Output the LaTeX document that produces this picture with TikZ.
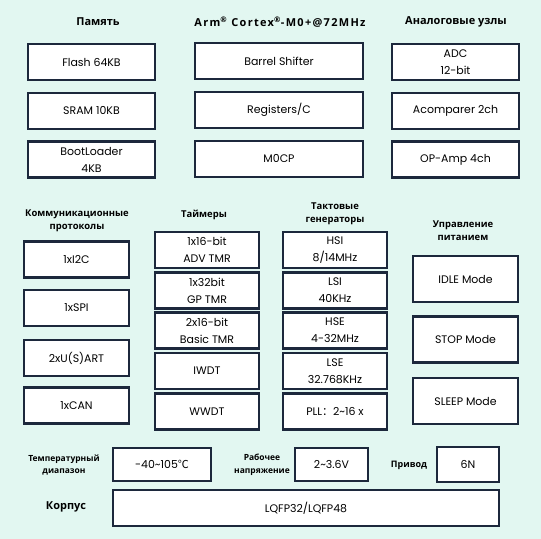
\documentclass[tikz,border=0pt]{standalone}
\usepackage{fontspec}
\setmainfont{Open Sans}
\newfontfamily\boxfont{Poppins}
\newfontfamily\cjk{Noto Sans CJK SC}
\definecolor{bgmint}{RGB}{226,247,241}
\definecolor{edge}{RGB}{28,40,60}
\tikzset{
  blk/.style={draw=edge, line width=2.2bp, fill=white, align=center, inner sep=0pt,
    font=\boxfont\fontsize{11}{17}\selectfont},
  memcol/.style={blk, minimum width=127bp, minimum height=36bp},
  armcol/.style={blk, minimum width=168bp, minimum height=36bp},
  comcol/.style={blk, minimum width=105bp, minimum height=36bp},
  tmrcol/.style={blk, minimum width=104bp, minimum height=36bp},
  pwrcol/.style={blk, minimum width=105bp, minimum height=46bp},
  hdr/.style={font=\bfseries\fontsize{11}{13}\selectfont, align=center},
  smallhdr/.style={font=\bfseries\fontsize{9.5}{13}\selectfont, align=center},
  tinyhdr/.style={font=\bfseries\fontsize{8.5}{13}\selectfont, align=center},
}
\begin{document}
\begin{tikzpicture}[x=1bp,y=-1bp]
    \fill[bgmint] (0,0) rectangle (541,539);
    \useasboundingbox (0,0) rectangle (541,539);
    % top row
    \node[hdr] (memhdr) at (98,22) {Память};
    \node[hdr] (armhdr) at (280,22) {\addfontfeatures{LetterSpace=12}Arm\textsuperscript{®} Cortex\textsuperscript{®}-M0+@72MHz};
    \node[hdr] (anahdr) at (456,22) {Аналоговые узлы};
    \node[memcol] (flash) at (91.5,62) {Flash 64KB};
    \node[memcol] (sram) at (91.5,111) {SRAM 10KB};
    \node[memcol] (boot) at (91.5,159.5) {BootLoader\\4KB};
    \node[armcol] (barrel) at (279,61) {Barrel Shifter};
    \node[armcol] (regs) at (279,110) {Registers/C};
    \node[armcol] (mocp) at (279,159) {M0CP};
    \node[memcol] (adc) at (455.5,62) {ADC\\12-bit};
    \node[memcol] (acmp) at (455.5,111) {Acomparer 2ch};
    \node[memcol] (opamp) at (455.5,159.5) {OP-Amp 4ch};
    % middle row
    \node[smallhdr] (comhdr) at (77,221) {Коммуникационные\\протоколы};
    \node[smallhdr] (tmrhdr) at (204,215) {Таймеры};
    \node[smallhdr] (clkhdr) at (335,214) {Тактовые\\генераторы};
    \node[smallhdr] (pwrhdr) at (463,231) {Управление\\питанием};
    \node[comcol] (iic) at (76.5,259.5) {1xI2C};
    \node[comcol] (spi) at (76.5,308) {1xSPI};
    \node[comcol] (usart) at (76.5,358) {2xU(S)ART};
    \node[comcol] (can) at (76.5,405.5) {1xCAN};
    \node[tmrcol] (advtmr) at (207,250) {1x16-bit\\ADV TMR};
    \node[tmrcol] (gptmr) at (207,290.5) {1x32bit\\GP TMR};
    \node[tmrcol] (bastmr) at (207,330.5) {2x16-bit\\Basic TMR};
    \node[tmrcol] (iwdt) at (207,371) {IWDT};
    \node[tmrcol] (wwdt) at (207,411.5) {WWDT};
    \node[tmrcol] (hsi) at (335,250) {HSI\\8/14MHz};
    \node[tmrcol] (lsi) at (335,290.5) {LSI\\40KHz};
    \node[tmrcol] (hse) at (335,330.5) {HSE\\4-32MHz};
    \node[tmrcol] (lse) at (335,371) {LSE\\32.768KHz};
    \node[tmrcol] (pll) at (335,411.5) {PLL{\cjk ：}2\textasciitilde16 x};
    \node[pwrcol] (idle) at (465.5,279) {IDLE Mode};
    \node[pwrcol] (stop) at (465.5,339.5) {STOP Mode};
    \node[pwrcol] (sleep) at (465.5,401) {SLEEP Mode};
    % bottom rows
    \node[tinyhdr] (temphdr) at (64,465) {Температурный\\диапазон};
    \node[blk, minimum width=98bp, minimum height=33bp] (temp) at (162,464.5) {-40\textasciitilde105{\cjk ℃}};
    \node[tinyhdr] (volthdr) at (262,465) {Рабочее\\напряжение};
    \node[blk, minimum width=73bp, minimum height=33bp] (volt) at (331.5,464.5) {2\textasciitilde3.6V};
    \node[font=\bfseries\fontsize{9}{12}\selectfont] (drvhdr) at (409,465) {Привод};
    \node[blk, minimum width=62bp, minimum height=35bp] (drv) at (468,464.5) {6N};
    \node[font=\bfseries\fontsize{11}{12}\selectfont] (pkghdr) at (66,507) {Корпус};
    \node[blk, minimum width=386bp, minimum height=36bp] (pkg) at (306,508) {LQFP32/LQFP48};
\end{tikzpicture}
\end{document}
